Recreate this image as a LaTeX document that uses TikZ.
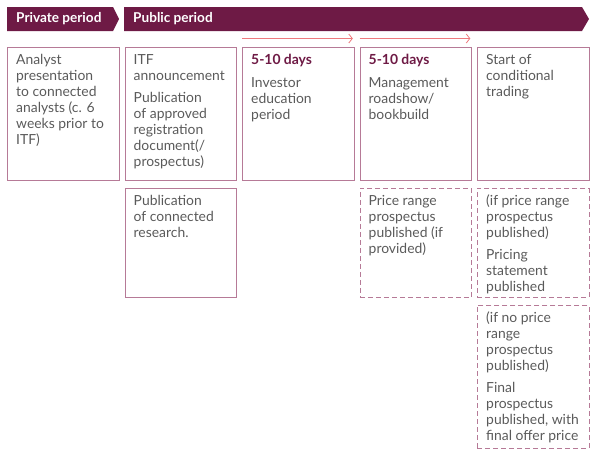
\documentclass[tikz,border=0pt]{standalone}
\usepackage{fontspec}
\setmainfont{Lato}
\usetikzlibrary{arrows.meta}

\definecolor{plum}{HTML}{6E1A45}
\definecolor{boxline}{HTML}{B67A97}
\definecolor{salmon}{HTML}{EE7A7E}
\definecolor{bodytext}{HTML}{5A5A5A}

\begin{document}
\begin{tikzpicture}[x=1pt,y=1pt,
    stage/.style={draw=boxline, line width=0.8pt, minimum width=111.5pt, inner sep=0pt, anchor=north west},
    maybe/.style={stage, dash pattern=on 5pt off 3pt},
    info/.style={anchor=north west, inner sep=0pt, align=left, text=bodytext, font=\fontsize{13.9}{16}\selectfont},
    banner/.style={text=white, font=\fontsize{13.6}{16}\selectfont\bfseries, anchor=west, inner sep=0pt},
    span/.style={draw=salmon, line width=0.8pt, shorten >=1.5pt, -{Straight Barb[length=3.5pt,width=9pt]}}]
    \useasboundingbox (0,0) rectangle (604,-456);

    % period banners
    \fill[plum] (7,-7) -- (113,-7) -- (119,-19) -- (113,-31) -- (7,-31) -- cycle;
    \fill[plum] (124,-7) -- (582,-7) -- (589,-19) -- (582,-31) -- (124,-31) -- cycle;
    \node[banner] (priv) at (16,-19) {Private period};
    \node[banner] (pub) at (133,-19) {Public period};

    % top row of stages
    \node[stage, minimum height=133pt] (s1) at (7,-47) {};
    \node[stage, minimum height=133pt] (s2) at (124.5,-47) {};
    \node[stage, minimum height=133pt] (s3) at (242,-47) {};
    \node[stage, minimum height=133pt] (s4) at (359.5,-47) {};
    \node[stage, minimum height=133pt] (s5) at (477,-47) {};

    % durations
    \draw[span] ([yshift=8.5pt]s3.north west) -- ([yshift=8.5pt]s3.north east);
    \draw[span] ([yshift=8.5pt]s4.north west) -- ([yshift=8.5pt]s4.north east);

    % second and third rows
    \node[stage, minimum height=109pt] (r2) at (124.5,-188) {};
    \node[maybe, minimum height=109pt] (r4) at (359.5,-188) {};
    \node[maybe, minimum height=109pt] (r5) at (477,-188) {};
    \node[maybe, minimum height=143pt] (q5) at (477,-305) {};

    % texts
    \node[info] (t1) at ([shift={(9,-7)}]s1.north west)
        {Analyst\\presentation\\to connected\\analysts (c. 6\\weeks prior to\\ITF)};
    \node[info] (t2) at ([shift={(9,-7)}]s2.north west)
        {ITF\\announcement\\[6pt]Publication\\of approved\\registration\\document(/\\prospectus)};
    \node[info] (t3) at ([shift={(9,-7)}]s3.north west)
        {{\color{plum}\bfseries 5-10 days}\\[7pt]Investor\\education\\period};
    \node[info] (t4) at ([shift={(9,-7)}]s4.north west)
        {{\color{plum}\bfseries 5-10 days}\\[7pt]Management\\roadshow/\\bookbuild};
    \node[info] (t5) at ([shift={(9,-7)}]s5.north west)
        {Start of\\conditional\\trading};
    \node[info] (u2) at ([shift={(9,-7)}]r2.north west)
        {Publication\\of connected\\research.};
    \node[info] (u4) at ([shift={(9,-7)}]r4.north west)
        {Price range\\prospectus\\published (if\\provided)};
    \node[info] (u5) at ([shift={(9,-7)}]r5.north west)
        {(if price range\\prospectus\\published)\\[6pt]Pricing\\statement\\published};
    \node[info] (v5) at ([shift={(9,-7)}]q5.north west)
        {(if no price\\range\\prospectus\\published)\\[6pt]Final\\prospectus\\published, with\\final offer price};
\end{tikzpicture}
\end{document}
